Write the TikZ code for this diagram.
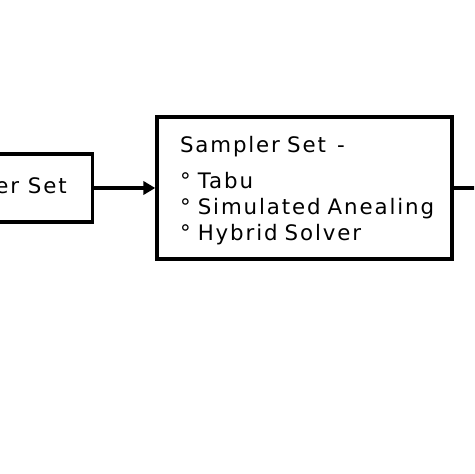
\documentclass[tikz,border=0pt]{standalone}
\usepackage{fontspec}
\setmainfont{DejaVu Sans}[LetterSpace=8.8]
\usepackage{tikz}
\usetikzlibrary{arrows.meta,positioning}

\begin{document}
\begin{tikzpicture}[x=0.75pt, y=0.75pt, font=\fontsize{16}{19.5}\selectfont,
  >={Triangle[length=9pt, width=10pt]},
  blk/.style={rectangle, draw=black, line width=2.6pt, fill=white,
              inner sep=0pt, minimum height=51pt}]
  \fill[white] (0,0) rectangle (474,474);
  \clip (0,0) rectangle (474,474);
  \node[blk, anchor=east, minimum width=149pt] (prev) at (94,286) {Sampler Set};
  \node[blk, align=left, inner xsep=17.25pt, text width=186.75pt,
        minimum height=106.5pt] (smp) at (304.5,286)
    {\rule{0pt}{16.8pt}Sampler Set\hspace{3pt} -\\[7.5pt]
     °~Tabu\\
     °~Simulated Anealing\\
     °~Hybrid Solver};
  \coordinate (out) at (480,286);
  \draw[->, line width=2.4pt] (prev)--(smp);
  \draw[line width=2.4pt] (smp)--(out);
\end{tikzpicture}
\end{document}
